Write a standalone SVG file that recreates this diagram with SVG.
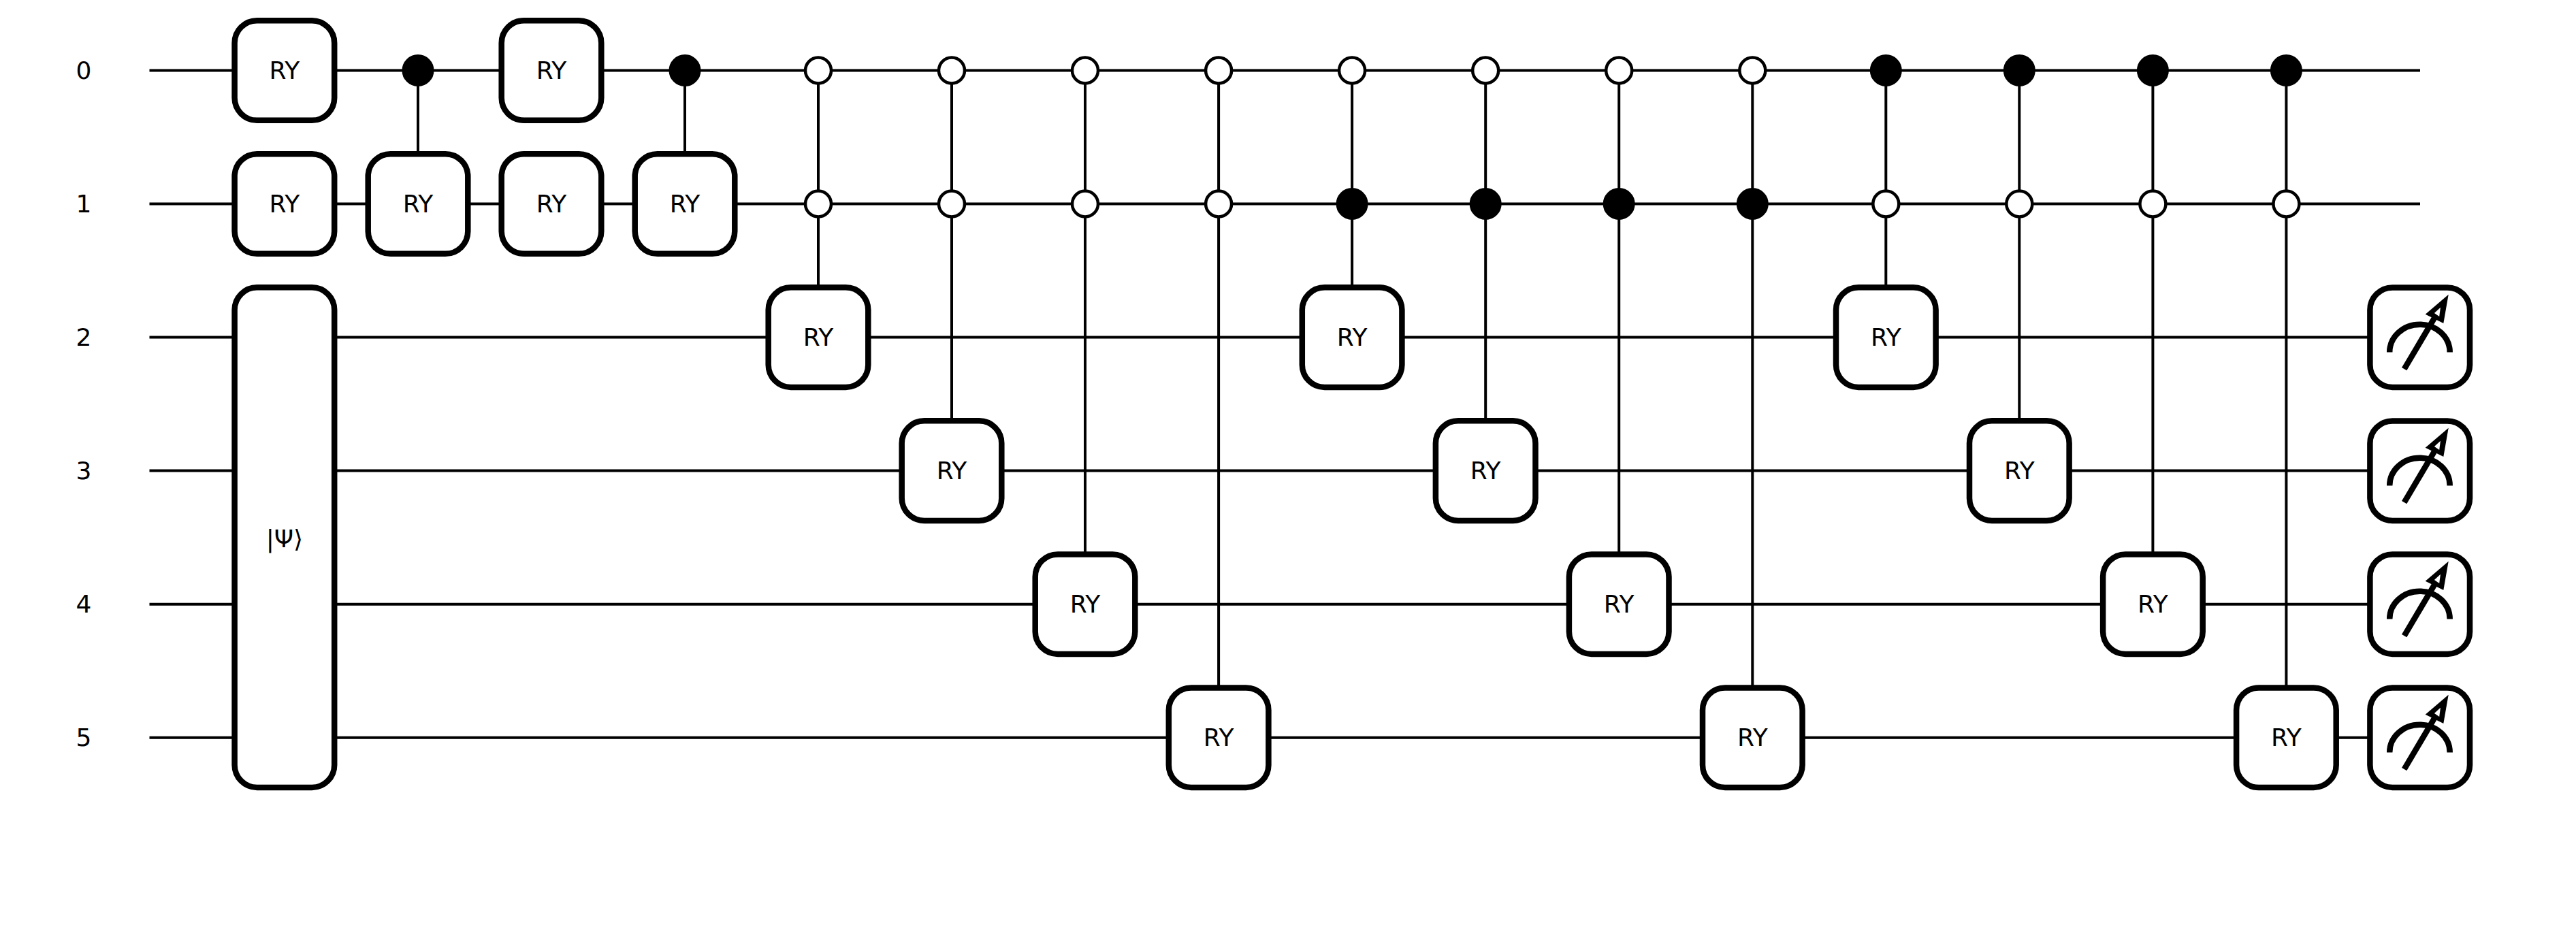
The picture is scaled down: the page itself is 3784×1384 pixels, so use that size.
<svg xmlns="http://www.w3.org/2000/svg" width="3784" height="1384" viewBox="0 0 3784 1384">
<style>
.bg{fill:#fff}
.w{stroke:#000;stroke-width:4;fill:none}
.box{fill:#fff;stroke:#000;stroke-width:8.500}
.t{font-family:"DejaVu Sans",sans-serif;font-size:36px;fill:#000;text-anchor:middle}
.on{fill:#000;stroke:#000;stroke-width:4}
.off{fill:#fff;stroke:#000;stroke-width:4.500}
</style>
<defs>
<rect id="gate" class="box" x="-73.3" y="-73.3" width="146.6" height="146.6" rx="33"/>
<circle id="c1" class="on" r="21.5"/>
<circle id="c0" class="off" r="19"/>
<g id="meter">
<rect class="box" x="-73.3" y="-73.3" width="146.6" height="146.6" rx="33"/>
<path d="M-44.5 21.700A44.200 40.700 0 0 1 44 21.700" fill="none" stroke="#000" stroke-width="8.500"/>
<path d="M-23 46.500L24 -33" fill="none" stroke="#000" stroke-width="8.500"/>
<path d="M42 -63L8 -34L34.600 -20.800Z" fill="#000"/>
<path d="M30.200 -44L21.200 -35.800L28.500 -30.800Z" fill="#fff"/>
</g>
</defs>
<rect class="bg" width="3784" height="1384"/>
<g id="connectors">
<path class="w" d="M219.500 103.500H3555M219.500 299.500H3555M219.500 495.600H3478M219.500 691.600H3478M219.500 887.700H3478M219.500 1083.700H3478"/>
<path class="w" d="M614 103.500V299.500M1006 103.500V299.500M1202 103.500V495.600M1398 103.500V691.600M1594 103.500V887.700M1790.100 103.500V1083.700M1986.100 103.500V495.600M2182.200 103.500V691.600M2378.200 103.500V887.700M2574.300 103.500V1083.700M2770.300 103.500V495.600M2966.300 103.500V691.600M3162.400 103.500V887.700M3358.400 103.500V1083.700"/>
</g>
<g id="labels">
<text class="t" x="123" y="116">0</text>
<text class="t" x="123" y="312">1</text>
<text class="t" x="123" y="508">2</text>
<text class="t" x="123" y="704">3</text>
<text class="t" x="123" y="900">4</text>
<text class="t" x="123" y="1096">5</text>
</g>
<g id="n0_0" transform="translate(417.900 103.500)"><use href="#gate"/><text class="t" y="12.500">RY</text></g>
<g id="n0_1" transform="translate(417.900 299.500)"><use href="#gate"/><text class="t" y="12.500">RY</text></g>
<g id="psi"><rect class="box" x="344.600" y="422.300" width="146.600" height="734.700" rx="33"/><text class="t" x="417.900" y="803.500">|Ψ⟩</text></g>
<g id="c1_0" transform="translate(614 103.500)"><use href="#c1"/></g>
<g id="n1_1" transform="translate(614 299.500)"><use href="#gate"/><text class="t" y="12.500">RY</text></g>
<g id="n2_0" transform="translate(810 103.500)"><use href="#gate"/><text class="t" y="12.500">RY</text></g>
<g id="n2_1" transform="translate(810 299.500)"><use href="#gate"/><text class="t" y="12.500">RY</text></g>
<g id="c3_0" transform="translate(1006 103.500)"><use href="#c1"/></g>
<g id="n3_1" transform="translate(1006 299.500)"><use href="#gate"/><text class="t" y="12.500">RY</text></g>
<g id="c4_0" transform="translate(1202 103.500)"><use href="#c0"/></g>
<g id="c4_1" transform="translate(1202 299.500)"><use href="#c0"/></g>
<g id="n4_2" transform="translate(1202 495.600)"><use href="#gate"/><text class="t" y="12.500">RY</text></g>
<g id="c5_0" transform="translate(1398 103.500)"><use href="#c0"/></g>
<g id="c5_1" transform="translate(1398 299.500)"><use href="#c0"/></g>
<g id="n5_3" transform="translate(1398 691.600)"><use href="#gate"/><text class="t" y="12.500">RY</text></g>
<g id="c6_0" transform="translate(1594 103.500)"><use href="#c0"/></g>
<g id="c6_1" transform="translate(1594 299.500)"><use href="#c0"/></g>
<g id="n6_4" transform="translate(1594 887.700)"><use href="#gate"/><text class="t" y="12.500">RY</text></g>
<g id="c7_0" transform="translate(1790.100 103.500)"><use href="#c0"/></g>
<g id="c7_1" transform="translate(1790.100 299.500)"><use href="#c0"/></g>
<g id="n7_5" transform="translate(1790.100 1083.700)"><use href="#gate"/><text class="t" y="12.500">RY</text></g>
<g id="c8_0" transform="translate(1986.100 103.500)"><use href="#c0"/></g>
<g id="c8_1" transform="translate(1986.100 299.500)"><use href="#c1"/></g>
<g id="n8_2" transform="translate(1986.100 495.600)"><use href="#gate"/><text class="t" y="12.500">RY</text></g>
<g id="c9_0" transform="translate(2182.200 103.500)"><use href="#c0"/></g>
<g id="c9_1" transform="translate(2182.200 299.500)"><use href="#c1"/></g>
<g id="n9_3" transform="translate(2182.200 691.600)"><use href="#gate"/><text class="t" y="12.500">RY</text></g>
<g id="c10_0" transform="translate(2378.200 103.500)"><use href="#c0"/></g>
<g id="c10_1" transform="translate(2378.200 299.500)"><use href="#c1"/></g>
<g id="n10_4" transform="translate(2378.200 887.700)"><use href="#gate"/><text class="t" y="12.500">RY</text></g>
<g id="c11_0" transform="translate(2574.300 103.500)"><use href="#c0"/></g>
<g id="c11_1" transform="translate(2574.300 299.500)"><use href="#c1"/></g>
<g id="n11_5" transform="translate(2574.300 1083.700)"><use href="#gate"/><text class="t" y="12.500">RY</text></g>
<g id="c12_0" transform="translate(2770.300 103.500)"><use href="#c1"/></g>
<g id="c12_1" transform="translate(2770.300 299.500)"><use href="#c0"/></g>
<g id="n12_2" transform="translate(2770.300 495.600)"><use href="#gate"/><text class="t" y="12.500">RY</text></g>
<g id="c13_0" transform="translate(2966.300 103.500)"><use href="#c1"/></g>
<g id="c13_1" transform="translate(2966.300 299.500)"><use href="#c0"/></g>
<g id="n13_3" transform="translate(2966.300 691.600)"><use href="#gate"/><text class="t" y="12.500">RY</text></g>
<g id="c14_0" transform="translate(3162.400 103.500)"><use href="#c1"/></g>
<g id="c14_1" transform="translate(3162.400 299.500)"><use href="#c0"/></g>
<g id="n14_4" transform="translate(3162.400 887.700)"><use href="#gate"/><text class="t" y="12.500">RY</text></g>
<g id="c15_0" transform="translate(3358.400 103.500)"><use href="#c1"/></g>
<g id="c15_1" transform="translate(3358.400 299.500)"><use href="#c0"/></g>
<g id="n15_5" transform="translate(3358.400 1083.700)"><use href="#gate"/><text class="t" y="12.500">RY</text></g>
<g id="m2" transform="translate(3554.700 495.700)"><use href="#meter"/></g>
<g id="m3" transform="translate(3554.700 691.700)"><use href="#meter"/></g>
<g id="m4" transform="translate(3554.700 887.700)"><use href="#meter"/></g>
<g id="m5" transform="translate(3554.700 1083.700)"><use href="#meter"/></g>
</svg>
